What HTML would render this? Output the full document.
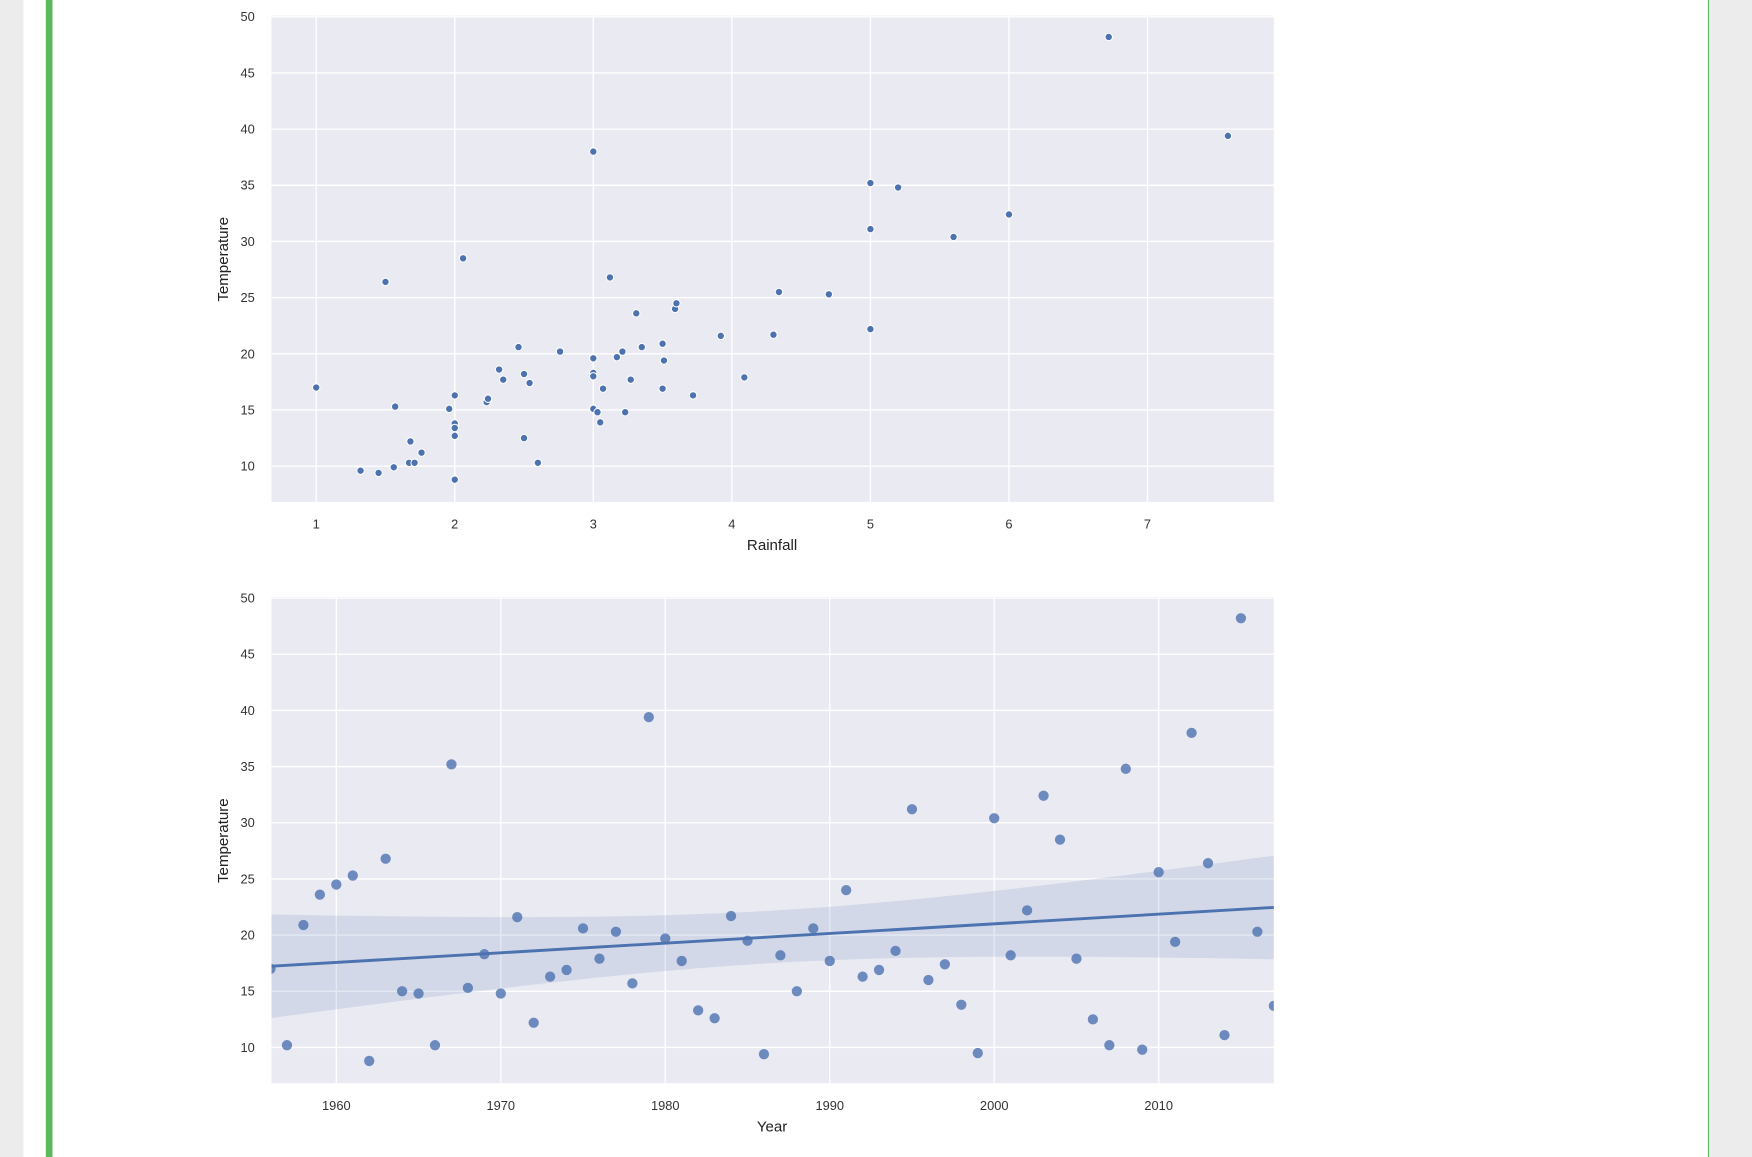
<!DOCTYPE html>
<html><head><meta charset="utf-8"><style>
html,body{margin:0;padding:0;background:#fff;}
svg{display:block;font-family:"Liberation Sans",sans-serif;}
</style></head><body>
<svg id="s" width="1752" height="1157" viewBox="0 0 1568 1035" preserveAspectRatio="none" xmlns="http://www.w3.org/2000/svg">
<defs>
<clipPath id="c1"><rect x="243" y="14" width="897" height="435"/></clipPath>
<clipPath id="c2"><rect x="243" y="534" width="897" height="435"/></clipPath>
</defs>
<rect x="0" y="0" width="1568" height="1035" fill="#fff"/>
<rect x="0" y="0" width="21" height="1035" fill="#ececec"/>
<rect x="41" y="0" width="6" height="1035" fill="#5cb85c"/>
<rect x="1529" y="0" width="39" height="1035" fill="#ececec"/>
<line x1="1529" y1="0" x2="1529" y2="1035" stroke="#5cb85c" stroke-width="1"/>
<g id="g1"></g>
<g id="g2"></g>
</svg>
<script>
const rainfall=[1,1.32,1.45,1.5,1.56,1.57,1.67,1.68,1.71,1.76,1.96,2,2,2,2,2,2.06,2.23,2.24,2.32,2.35,2.46,2.5,2.5,2.54,2.6,2.76,3,3,3,3,3,3.03,3.05,3.07,3.12,3.17,3.21,3.23,3.27,3.31,3.35,3.5,3.5,3.51,3.59,3.6,3.72,3.92,4.09,4.3,4.34,4.7,5,5,5,5.2,5.6,6,6.72,7.58];
const tempA=[17,9.6,9.4,26.4,9.9,15.3,10.3,12.2,10.3,11.2,15.1,16.3,13.8,13.4,12.7,8.8,28.5,15.7,16,18.6,17.7,20.6,18.2,12.5,17.4,10.3,20.2,38,19.6,18.3,18,15.1,14.8,13.9,16.9,26.8,19.7,20.2,14.8,17.7,23.6,20.6,20.9,16.9,19.4,24,24.5,16.3,21.6,17.9,21.7,25.5,25.3,35.2,31.1,22.2,34.8,30.4,32.4,48.2,39.4];
const years=[1956,1957,1958,1959,1960,1961,1962,1963,1964,1965,1966,1967,1968,1969,1970,1971,1972,1973,1974,1975,1976,1977,1978,1979,1980,1981,1982,1983,1984,1985,1986,1987,1988,1989,1990,1991,1992,1993,1994,1995,1996,1997,1998,1999,2000,2001,2002,2003,2004,2005,2006,2007,2008,2009,2010,2011,2012,2013,2014,2015,2016,2017];
const tempB=[17,10.2,20.9,23.6,24.5,25.3,8.8,26.8,15,14.8,10.2,35.2,15.3,18.3,14.8,21.6,12.2,16.3,16.9,20.6,17.9,20.3,15.7,39.4,19.7,17.7,13.3,12.6,21.7,19.5,9.4,18.2,15,20.6,17.7,24,16.3,16.9,18.6,31.2,16,17.4,13.8,9.5,30.4,18.2,22.2,32.4,28.5,17.9,12.5,10.2,34.8,9.8,25.6,19.4,38,26.4,11.1,48.2,20.3,13.7];
const yTicks=[10,15,20,25,30,35,40,45,50];
const xTicksA=[1,2,3,4,5,6,7];
const xTicksB=[1960,1970,1980,1990,2000,2010];
const NS="http://www.w3.org/2000/svg";
function mk(p,t,a){const e=document.createElementNS(NS,t);for(const k in a)e.setAttribute(k,a[k]);p.appendChild(e);return e;}
function axes(g,top,xs,xTicks,xl,yl){
  const L=243,R=1140,B=top+435;
  const ys=v=>top+1+(50-v)*10.05;
  const bg=mk(g,'rect',{x:L,y:top,width:R-L,height:435,fill:'#eaeaf2'});
  
  yTicks.forEach(v=>{
    mk(g,'line',{x1:L,x2:R,y1:ys(v),y2:ys(v),stroke:'#fff','stroke-width':1.2});
    const t=mk(g,'text',{x:228,y:ys(v)+4,'text-anchor':'end','font-size':11.5,fill:'#333'});t.textContent=v;
    
  });
  xTicks.forEach(v=>{
    mk(g,'line',{x1:xs(v),x2:xs(v),y1:top,y2:B,stroke:'#fff','stroke-width':1.2});
    const t=mk(g,'text',{x:xs(v),y:B+24,'text-anchor':'middle','font-size':11.5,fill:'#333'});t.textContent=v;
    
  });
  const xt=mk(g,'text',{x:691,y:B+43,'text-anchor':'middle','font-size':13.5,fill:'#222'});xt.textContent=xl;
  
  const yt=mk(g,'text',{x:0,y:0,transform:`translate(204,${top+218}) rotate(-90)`,'text-anchor':'middle','font-size':13.5,fill:'#222'});yt.textContent=yl;
  
  return ys;
}
const g1=document.getElementById('g1');
const xa=v=>283+(v-1)*124;
const ya=axes(g1,14,xa,xTicksA,'Rainfall','Temperature');
const p1=mk(g1,'g',{'clip-path':'url(#c1)'});
rainfall.forEach((r,i)=>{
  const c=mk(p1,'circle',{cx:xa(r),cy:ya(tempA[i]),r:3.3,fill:'#4c72b0',stroke:'#fff','stroke-width':0.9});
  
  
});
const g2=document.getElementById('g2');
const xb=v=>301+(v-1960)*14.72;
const yb=axes(g2,534,xb,xTicksB,'Year','Temperature');
const p2=mk(g2,'g',{'clip-path':'url(#c2)'});
const n=years.length,mx=years.reduce((a,b)=>a+b)/n,my=tempB.reduce((a,b)=>a+b)/n;
let sxx=0,sxy=0;years.forEach((x,i)=>{sxx+=(x-mx)**2;sxy+=(x-mx)*(tempB[i]-my);});
const sl=sxy/sxx,ic=my-sl*mx;
let sse=0;years.forEach((x,i)=>{sse+=(tempB[i]-(ic+sl*x))**2;});
const s=Math.sqrt(sse/(n-2));
const x0=1956,x1=2017.1;const up=[],lo=[];
for(let k=0;k<=40;k++){const x=x0+(x1-x0)*k/40;const f=ic+sl*x;const h=2.3*s*Math.sqrt(1/n+(x-mx)**2/sxx);up.push([xb(x),yb(f+h)]);lo.push([xb(x),yb(f-h)]);}
const band=mk(p2,'path',{d:'M'+up.map(p=>p.join(',')).join('L')+'L'+lo.reverse().map(p=>p.join(',')).join('L')+'Z',fill:'#4c72b0','fill-opacity':0.15});

years.forEach((y,i)=>{
  const c=mk(p2,'circle',{cx:xb(y),cy:yb(tempB[i]),r:4.6,fill:'#4c72b0','fill-opacity':0.8});
  
  
});
const ln=mk(p2,'line',{x1:xb(x0),y1:yb(ic+sl*x0),x2:xb(x1),y2:yb(ic+sl*x1),stroke:'#4c72b0','stroke-width':2.6});

</script>
</body></html>
